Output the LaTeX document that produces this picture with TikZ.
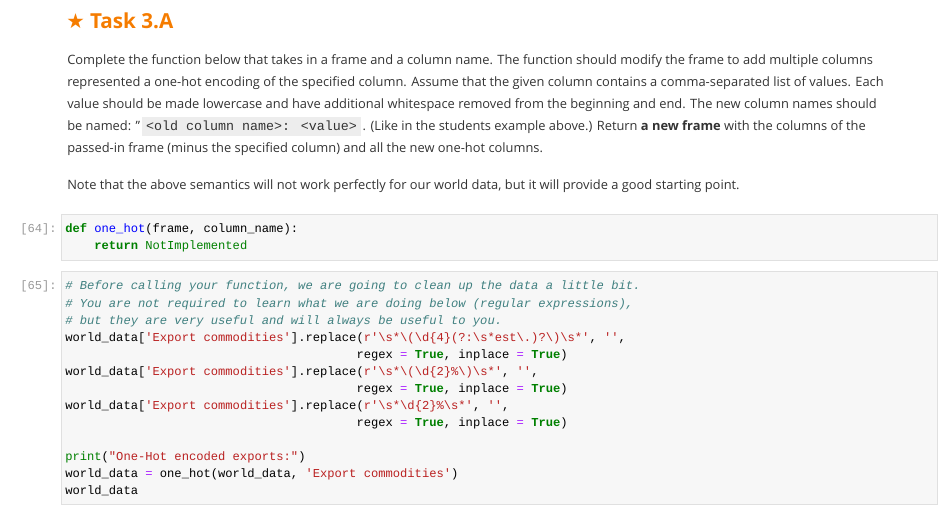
\documentclass[tikz,border=0pt]{standalone}
\usepackage{fontspec}
\setmainfont{Open Sans}
\newfontfamily\code{Liberation Mono}
\newfontfamily\sym{DejaVu Sans}
\definecolor{ttl}{HTML}{F57C00}
\definecolor{txt}{HTML}{333333}
\definecolor{kw}{HTML}{008000}
\definecolor{fn}{HTML}{0000FF}
\definecolor{st}{HTML}{BA2121}
\definecolor{cm}{HTML}{408080}
\definecolor{op}{HTML}{AA22FF}
\definecolor{pr}{HTML}{999999}
\definecolor{cellbg}{HTML}{F7F7F7}
\definecolor{cellbd}{HTML}{E0E0E0}
\newcommand{\K}[1]{\textcolor{kw}{\bfseries #1}}
\newcommand{\F}[1]{\textcolor{fn}{#1}}
\newcommand{\Sx}[1]{\textcolor{st}{#1}}
\newcommand{\Cm}[1]{\textcolor{cm}{\itshape #1}}
\newcommand{\Op}[1]{\textcolor{op}{#1}}
\newcommand{\bs}{\textbackslash}
\begin{document}
\begin{tikzpicture}[x=0.75pt,y=-0.75pt,
  body/.style={anchor=base west,inner sep=0pt,text=txt,font=\fontsize{9.65}{12}\selectfont},
  cl/.style={anchor=base west,inner sep=0pt,text=black,font=\code\fontsize{9.1}{11}\selectfont},
  prm/.style={anchor=base east,inner sep=0pt,text=pr,font=\code\fontsize{9.1}{11}\selectfont},
  cell/.style={draw=cellbd,fill=cellbg,line width=0.75pt}]
\useasboundingbox (0,0) rectangle (948,509);
\node[anchor=base west,inner sep=0pt,text=ttl,font=\fontsize{15.5}{17}\selectfont\bfseries] (title) at (66,29) {{\sym\mdseries ★} Task 3.A};
\node[body] (l1) at (67,65) {Complete the function below that takes in a frame and a column name. The function should modify the frame to add multiple columns};
\node[body] (l2) at (67,87) {represented a one-hot encoding of the specified column. Assume that the given column contains a comma-separated list of values. Each};
\node[body] (l3) at (67,109) {value should be made lowercase and have additional whitespace removed from the beginning and end. The new column names should};
\node[body] (l4a) at (67,131) {be named: "};
\node[anchor=base west,fill=black!7,inner xsep=3pt,inner ysep=3.5pt,font=\code\fontsize{10}{12}\selectfont,text=txt] (l4b) at ([xshift=1pt]l4a.base east) {<old column name>: <value>};
\node[body] (l4c) at ([xshift=1pt]l4b.base east) {. (Like in the students example above.) Return \textbf{a new frame} with the columns of the};
\node[body] (l5) at (67,153) {passed-in frame (minus the specified column) and all the new one-hot columns.};
\node[body] (l6) at (67,190) {Note that the above semantics will not work perfectly for our world data, but it will provide a good starting point.};
% cell 1
\draw[cell] (61,215) rectangle (937,261);
\node[prm] (p1) at (57,233) {[64]:};
\node[cl] (c11) at (65,233) {\K{def} \F{one\_hot}(frame, column\_name):};
\node[cl] (c12) at (65,250) {\phantom{xxxx}\K{return} \textcolor{kw}{NotImplemented}};
% cell 2
\draw[cell] (61,272) rectangle (937,504);
\node[prm] (p2) at (57,290) {[65]:};
\node[cl] (d1) at (65,290) {\Cm{\# Before calling your function, we are going to clean up the data a little bit.}};
\node[cl] (d2) at (65,307) {\Cm{\# You are not required to learn what we are doing below (regular expressions),}};
\node[cl] (d3) at (65,324) {\Cm{\# but they are very useful and will always be useful to you.}};
\node[cl] (d4) at (65,341) {world\_data[\Sx{'Export commodities'}].replace(\Sx{r'\bs s*\bs(\bs d\{4\}(?:\bs s*est\bs .)?\bs)\bs s*'}, \Sx{''},};
\node[cl] (d5) at (65,358) {\phantom{xxxxxxxxxxxxxxxxxxxxxxxxxxxxxxxxxxxxxxxx}regex \Op{=} \K{True}, inplace \Op{=} \K{True})};
\node[cl] (d6) at (65,375) {world\_data[\Sx{'Export commodities'}].replace(\Sx{r'\bs s*\bs(\bs d\{2\}\%\bs)\bs s*'}, \Sx{''},};
\node[cl] (d7) at (65,392) {\phantom{xxxxxxxxxxxxxxxxxxxxxxxxxxxxxxxxxxxxxxxx}regex \Op{=} \K{True}, inplace \Op{=} \K{True})};
\node[cl] (d8) at (65,409) {world\_data[\Sx{'Export commodities'}].replace(\Sx{r'\bs s*\bs d\{2\}\%\bs s*'}, \Sx{''},};
\node[cl] (d9) at (65,426) {\phantom{xxxxxxxxxxxxxxxxxxxxxxxxxxxxxxxxxxxxxxxx}regex \Op{=} \K{True}, inplace \Op{=} \K{True})};
\node[cl] (d10) at (65,460) {\textcolor{kw}{print}(\Sx{"One-Hot encoded exports:"})};
\node[cl] (d11) at (65,477) {world\_data \Op{=} one\_hot(world\_data, \Sx{'Export commodities'})};
\node[cl] (d12) at (65,494) {world\_data};
\end{tikzpicture}
\end{document}
